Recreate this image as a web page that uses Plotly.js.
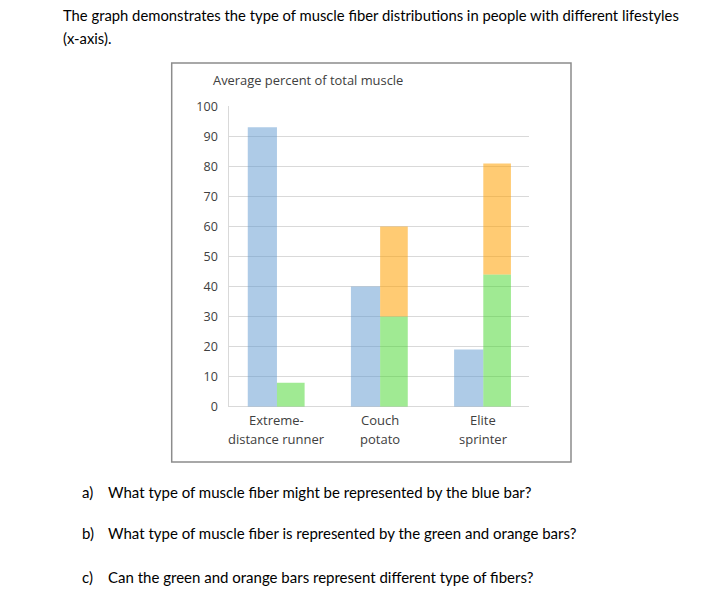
<!DOCTYPE html>
<html>
<head>
<meta charset="utf-8">
<script src="https://cdn.plot.ly/plotly-3.0.1.min.js"></script>
<style>
html, body { margin: 0; padding: 0; background: #ffffff; }
#chart { width: 705px; height: 599px; }
</style>
</head>
<body>
<div id="chart"></div>
<script>
// ---- data ----
const categories = ["Extreme-distance runner", "Couch potato", "Elite sprinter"];
const tickLine1 = ["Extreme-", "Couch", "Elite"];
const tickLine2 = ["distance runner", "potato", "sprinter"];
const blueValues = [93, 40, 19];
const greenValues = [8, 30, 44];
const orangeValues = [null, 30, 37];
const yTicks = [0, 10, 20, 30, 40, 50, 60, 70, 80, 90, 100];
const yAxisTitle = "Average percent of total muscle";
const introLines = [
  "The graph demonstrates the type of muscle fiber distributions in people with different lifestyles",
  "(x-axis)."
];
const questionLabels = ["a)", "b)", "c)"];
const questions = [
  "What type of muscle fiber might be represented by the blue bar?",
  "What type of muscle fiber is represented by the green and orange bars?",
  "Can the green and orange bars represent different type of fibers?"
];

// ---- layout helpers (pixel -> paper) ----
const W = 705, H = 599;
const px = x => x / W;
const py = y => 1 - y / H;

const xIdx = categories.map((_, i) => i);

const traces = [
  {
    type: "bar", x: xIdx, y: blueValues, offset: -0.283, width: 0.283,
    marker: { color: "rgba(94,151,208,0.5)", line: { width: 0 } },
    hoverinfo: "y", name: "blue"
  },
  {
    type: "bar", x: xIdx, y: greenValues, offset: 0, width: 0.268,
    marker: { color: "rgba(66,214,40,0.5)", line: { width: 0 } },
    hoverinfo: "y", name: "green"
  },
  {
    type: "bar", x: xIdx, y: orangeValues, base: greenValues, offset: 0, width: 0.268,
    marker: { color: "rgba(255,160,0,0.55)", line: { width: 0 } },
    hoverinfo: "y", name: "orange"
  }
];

const chartFont = "'Open Sans', Roboto, sans-serif";
const docFont = "Lato, 'Open Sans', sans-serif";

const annotations = [];
introLines.forEach((t, i) => {
  annotations.push({
    text: t, xref: "paper", yref: "paper", x: px(61), y: py(15 + i * 23),
    xanchor: "left", yanchor: "middle", showarrow: false,
    font: { family: docFont, size: 14.8, color: "#000000" }
  });
});
const qY = [492, 533, 577];
questions.forEach((t, i) => {
  annotations.push({
    text: questionLabels[i], xref: "paper", yref: "paper", x: px(80), y: py(qY[i]),
    xanchor: "left", yanchor: "middle", showarrow: false,
    font: { family: docFont, size: 15, color: "#000000" }
  });
  annotations.push({
    text: t, xref: "paper", yref: "paper", x: px(106), y: py(qY[i]),
    xanchor: "left", yanchor: "middle", showarrow: false,
    font: { family: docFont, size: 15, color: "#000000" }
  });
});
annotations.push({
  text: yAxisTitle, xref: "paper", yref: "paper", x: px(211), y: py(80),
  xanchor: "left", yanchor: "middle", showarrow: false,
  font: { family: chartFont, size: 12.9, color: "#404040" }
});
// x-axis category labels (two lines, placed on the category scale)
xIdx.forEach(i => {
  annotations.push({
    text: tickLine1[i], xref: "x", yref: "paper", x: i, y: py(420),
    xanchor: "center", yanchor: "middle", showarrow: false,
    font: { family: chartFont, size: 13, color: "#404040" }
  });
  annotations.push({
    text: tickLine2[i], xref: "x", yref: "paper", x: i, y: py(439),
    xanchor: "center", yanchor: "middle", showarrow: false,
    font: { family: chartFont, size: 13, color: "#404040" }
  });
});

const layout = {
  width: W, height: H,
  margin: { l: 0, r: 0, t: 0, b: 0 },
  paper_bgcolor: "#ffffff", plot_bgcolor: "#ffffff",
  showlegend: false,
  barmode: "overlay",
  font: { family: chartFont, size: 12, color: "#404040" },
  xaxis: {
    domain: [px(229.3), px(529.3)],
    range: [-0.462, 2.446],
    tickmode: "array", tickvals: xIdx, ticktext: categories,
    showticklabels: false,
    ticks: "", showgrid: false, zeroline: false,
    showline: false, fixedrange: true
  },
  yaxis: {
    domain: [py(406.7), py(106.3)],
    range: [0, 100],
    tickmode: "array", tickvals: yTicks,
    ticks: "", ticklabelstandoff: 8,
    showgrid: true, gridcolor: "#d9d9d9", gridwidth: 1,
    zeroline: true, zerolinecolor: "#d9d9d9", zerolinewidth: 1,
    showline: true, linecolor: "#d9d9d9", linewidth: 1,
    fixedrange: true,
    tickfont: { family: chartFont, size: 12.5, color: "#404040" }
  },
  shapes: [
    {
      type: "rect", xref: "paper", yref: "paper",
      x0: px(171.7), x1: px(571), y0: py(462), y1: py(63),
      line: { color: "#8c8c8c", width: 1.5 }, fillcolor: "rgba(0,0,0,0)", layer: "below"
    }
  ],
  annotations: annotations
};

Plotly.newPlot("chart", traces, layout, { displayModeBar: false, staticPlot: true });
</script>
</body>
</html>
